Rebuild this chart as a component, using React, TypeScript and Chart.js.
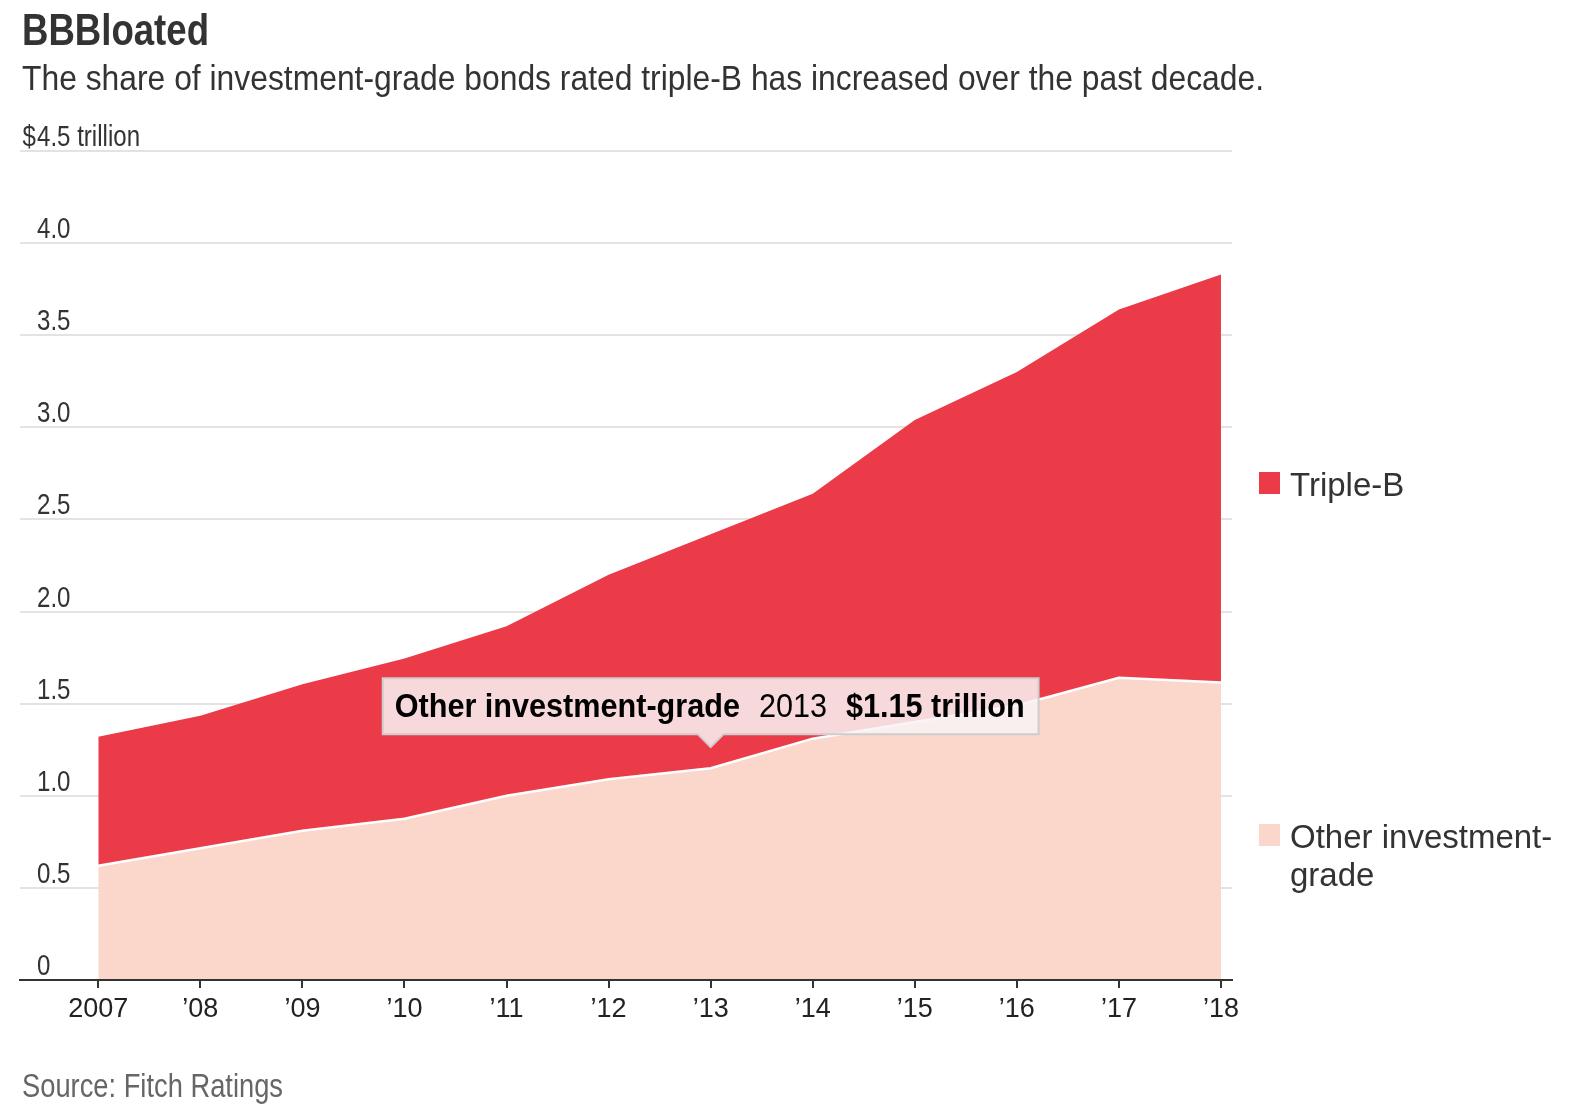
import React, { useEffect, useRef } from "react";
import { Chart, registerables } from "chart.js";

Chart.register(...registerables);

// ---------- data ----------
const years = [2007, 2008, 2009, 2010, 2011, 2012, 2013, 2014, 2015, 2016, 2017, 2018];
const yearLabels = ["2007", "\u201908", "\u201909", "\u201910", "\u201911", "\u201912", "\u201913", "\u201914", "\u201915", "\u201916", "\u201917", "\u201918"];
const otherIG = [0.62, 0.715, 0.81, 0.875, 1.0, 1.09, 1.15, 1.31, 1.4, 1.49, 1.64, 1.615];
const tripleB = [0.7, 0.72, 0.795, 0.87, 0.92, 1.11, 1.27, 1.33, 1.64, 1.81, 2.0, 2.215];
const yTicks = [0, 0.5, 1.0, 1.5, 2.0, 2.5, 3.0, 3.5, 4.0, 4.5];
const yTickLabels = ["0", "0.5", "1.0", "1.5", "2.0", "2.5", "3.0", "3.5", "4.0", "4.5 trillion"];
const seriesNames = ["Triple-B", "Other investment-grade"];
const tooltipIndex = 6;

const titleText = "BBBloated";
const subtitleText = "The share of investment-grade bonds rated triple-B has increased over the past decade.";
const sourceText = "Source: Fitch Ratings";

// ---------- style ----------
const RED = "#ec3b48";
const PINK = "#fad6cb";
const FONT = '"Liberation Sans", Arial, sans-serif';

let measureCtx: CanvasRenderingContext2D | null = null;
function fitScale(text: string, font: string, target: number): number {
  if (!measureCtx) measureCtx = document.createElement("canvas").getContext("2d");
  if (!measureCtx) return 1;
  measureCtx.font = font;
  const w = measureCtx.measureText(text).width;
  return w > 0 ? target / w : 1;
}

function drawNarrow(ctx: CanvasRenderingContext2D, text: string, x: number, y: number, sx: number, align: "left" | "right" | "center") {
  ctx.save();
  ctx.translate(x, y);
  ctx.scale(sx, 1);
  ctx.textAlign = align;
  ctx.fillText(text, 0, 0);
  ctx.restore();
}

const yLabelPlugin = {
  id: "yLabels",
  afterDraw(chart: any) {
    const ys = chart.scales.y;
    const ctx = chart.ctx;
    ctx.save();
    ctx.font = `29px ${FONT}`;
    ctx.fillStyle = "#333";
    ctx.textBaseline = "alphabetic";
    const sx = 0.83;
    yTicks.forEach((v, i) => {
      const py = ys.getPixelForValue(v) - 5;
      if (i === yTicks.length - 1) {
        drawNarrow(ctx, "$", 36, py, sx, "right");
      }
      drawNarrow(ctx, yTickLabels[i], 37, py, sx, "left");
    });
    ctx.restore();
  },
};

const tooltipPlugin = {
  id: "fixedTooltip",
  afterDatasetsDraw(chart: any) {
    const meta = chart.getDatasetMeta(0);
    const pt = meta.data[tooltipIndex];
    if (!pt) return;
    const x = pt.x;
    const y = pt.y;
    const ctx = chart.ctx;
    const parts = [
      { text: seriesNames[1], bold: true },
      { text: String(years[tooltipIndex]), bold: false },
      { text: `$${otherIG[tooltipIndex].toFixed(2)} trillion`, bold: true },
    ];
    const size = 34;
    const sx = 0.9;
    const gap = 19;
    const padL = 12;
    const padR = 14;
    ctx.save();
    const widths = parts.map((p) => {
      ctx.font = `${p.bold ? "bold " : ""}${size}px ${FONT}`;
      return ctx.measureText(p.text).width * sx;
    });
    const textW = widths.reduce((a, b) => a + b, 0) + gap * (parts.length - 1);
    const boxW = textW + padL + padR;
    const boxH = 56;
    const left = x - boxW / 2;
    const right = x + boxW / 2;
    const bottom = y - 34;
    const top = bottom - boxH;
    const tip = y - 21;
    ctx.beginPath();
    ctx.moveTo(left, top);
    ctx.lineTo(right, top);
    ctx.lineTo(right, bottom);
    ctx.lineTo(x + 13, bottom);
    ctx.lineTo(x, tip);
    ctx.lineTo(x - 13, bottom);
    ctx.lineTo(left, bottom);
    ctx.closePath();
    ctx.fillStyle = "rgba(248,243,244,0.86)";
    ctx.fill();
    ctx.strokeStyle = "#cdcdcd";
    ctx.lineWidth = 2;
    ctx.stroke();
    let cx = left + padL;
    ctx.fillStyle = "#000";
    ctx.textBaseline = "alphabetic";
    parts.forEach((p, i) => {
      ctx.font = `${p.bold ? "bold " : ""}${size}px ${FONT}`;
      drawNarrow(ctx, p.text, cx, top + 39, sx, "left");
      cx += widths[i] + gap;
    });
    ctx.restore();
  },
};

export default function App() {
  const canvasRef = useRef<HTMLCanvasElement | null>(null);

  useEffect(() => {
    const canvas = canvasRef.current;
    if (!canvas) return;
    const chart = new Chart(canvas, {
      type: "line",
      data: {
        datasets: [
          {
            label: seriesNames[1],
            data: years.map((x, i) => ({ x, y: otherIG[i] })),
            fill: "origin",
            backgroundColor: PINK,
            borderColor: "#ffffff",
            borderWidth: 2.5,
            pointRadius: 0,
            tension: 0,
          },
          {
            label: seriesNames[0],
            data: years.map((x, i) => ({ x, y: tripleB[i] })),
            fill: "-1",
            backgroundColor: RED,
            borderColor: RED,
            borderWidth: 0,
            pointRadius: 0,
            tension: 0,
          },
        ],
      },
      options: {
        responsive: false,
        animation: false,
        layout: { padding: { left: 20, right: 364, top: 151, bottom: 72 } },
        plugins: {
          legend: { display: false },
          tooltip: { enabled: false },
        },
        scales: {
          x: {
            type: "linear",
            min: 2006.233,
            max: 2018.108,
            afterBuildTicks: (s: any) => {
              s.ticks = years.map((v) => ({ value: v }));
            },
            afterFit: (s: any) => {
              s.height = 60;
            },
            grid: {
              drawOnChartArea: false,
              drawTicks: true,
              tickLength: 8,
              color: "#333",
              lineWidth: 2,
            },
            border: { display: true, color: "#333", width: 2, z: 1 },
            ticks: {
              font: { family: FONT, size: 27 },
              color: "#222",
              padding: 5,
              maxRotation: 0,
              autoSkip: false,
              callback: (v: any) => yearLabels[years.indexOf(Number(v))],
            },
          },
          y: {
            stacked: true,
            min: 0,
            max: 4.5,
            afterBuildTicks: (s: any) => {
              s.ticks = yTicks.map((v) => ({ value: v }));
            },
            afterFit: (s: any) => {
              s.width = 0;
            },
            grid: { color: "#e3e3e3", lineWidth: 2, drawTicks: false },
            border: { display: false },
            ticks: { display: false },
          },
        },
      },
      plugins: [yLabelPlugin, tooltipPlugin],
    } as any);
    return () => chart.destroy();
  }, []);

  const titleFont = `bold 44px ${FONT}`;
  const subFont = `35px ${FONT}`;
  const srcFont = `33px ${FONT}`;
  const narrowText = (text: string, font: string, target: number, left: number, top: number, color: string) => (
    <div
      style={{
        position: "absolute",
        left,
        top,
        font,
        lineHeight: font.match(/(\d+)px/)![1] + "px",
        color,
        whiteSpace: "nowrap",
        transform: `scaleX(${fitScale(text, font, target)})`,
        transformOrigin: "0 0",
      }}
    >
      {text}
    </div>
  );

  const legendItem = (label: string, color: string, top: number) => (
    <div style={{ position: "absolute", left: 1259, top, display: "flex", alignItems: "flex-start" }}>
      <div style={{ width: 21, height: 22, background: color, marginTop: 6, flex: "0 0 auto" }} />
      <div
        style={{
          marginLeft: 10,
          width: 300,
          font: `33px ${FONT}`,
          lineHeight: "38px",
          color: "#333",
        }}
      >
        {label}
      </div>
    </div>
  );

  return (
    <div style={{ position: "absolute", left: 0, top: 0, width: 1596, height: 1112, overflow: "hidden", background: "#fff" }}>
      <canvas ref={canvasRef} width={1596} height={1112} style={{ position: "absolute", left: 0, top: 0, width: 1596, height: 1112 }} />
      {narrowText(titleText, titleFont, 187, 22, 8, "#333")}
      {narrowText(subtitleText, subFont, 1242, 22, 60, "#333")}
      {legendItem(seriesNames[0], RED, 466)}
      {legendItem(seriesNames[1], PINK, 818)}
      {narrowText(sourceText, srcFont, 261, 22, 1069, "#666")}
    </div>
  );
}
